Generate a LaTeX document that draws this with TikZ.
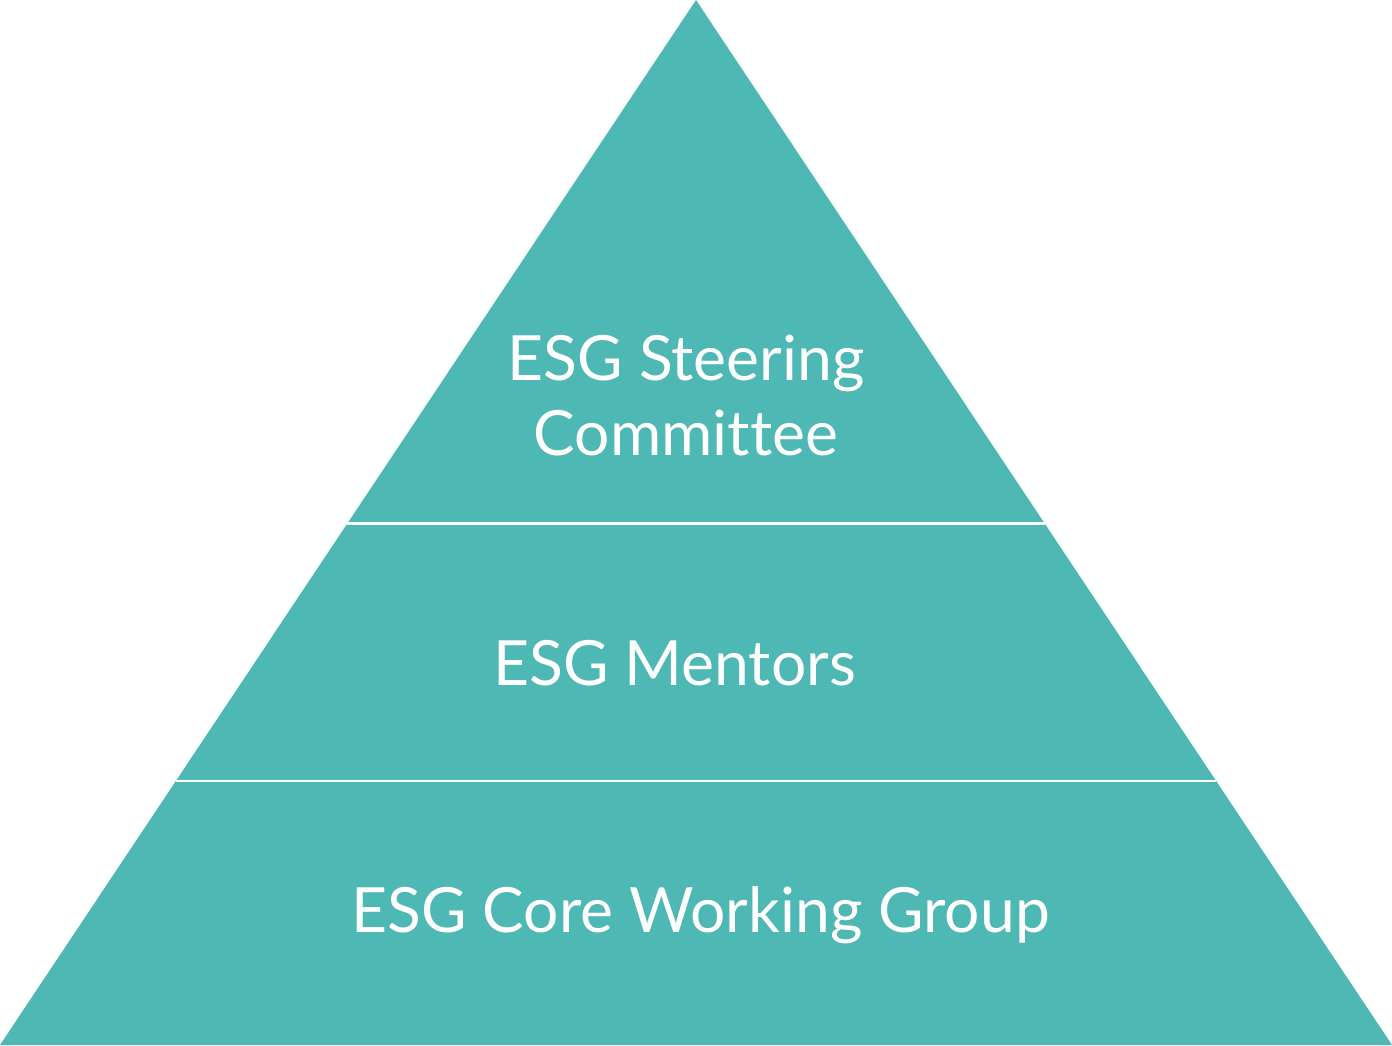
\documentclass[tikz,border=0pt]{standalone}
\usepackage{fontspec}
\setmainfont{Lato}[Ligatures=NoCommon]
\definecolor{pyrteal}{RGB}{77,184,180}
\tikzset{
  pyrlabel/.style={text=white, anchor=base, inner sep=0pt, font=\fontsize{35.5}{42}\selectfont},
  pyrsep/.style={draw=white, line width=0.05cm}
}
\begin{document}
\begin{tikzpicture}[x=0.02cm, y=-0.02cm]
\useasboundingbox (0,0) rectangle (1392,1045);
% Pyramide
\coordinate (apex) at (696,0);
\coordinate (bl) at (0,1045);
\coordinate (br) at (1392,1045);
\fill[pyrteal] (apex) -- (br) -- (bl) -- cycle;

% Séparations entre les niveaux
\foreach \y in {523.5, 781} {
    \draw[pyrsep] ({696-0.66603*\y},\y) -- ({696+0.66603*\y},\y);
}

% Niveaux
\node[pyrlabel] (steer) at (686,380) {ESG Steering};
\node[pyrlabel] (comm) at (686,455) {Committee};
\node[pyrlabel] (mentors) at (674.5,685) {ESG Mentors};
\node[pyrlabel] (core) at (700.5,932) {ESG Core Working Group};
\end{tikzpicture}
\end{document}
